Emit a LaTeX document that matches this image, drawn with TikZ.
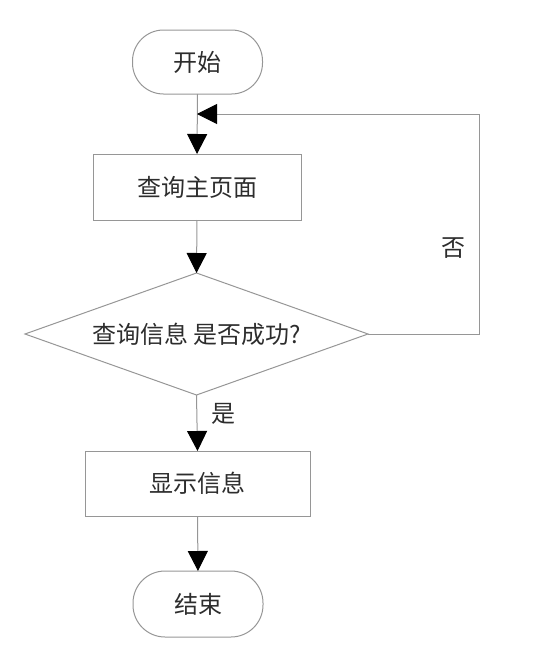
\documentclass[tikz,border=0pt]{standalone}
\usepackage{fontspec}
\newfontfamily\cjk{Noto Sans CJK SC}
\usetikzlibrary{arrows.meta,shapes.geometric}
\definecolor{linegray}{RGB}{150,150,150}
\definecolor{textgray}{RGB}{45,45,45}
\begin{document}
\begin{tikzpicture}[x=1pt,y=-1pt,
  every node/.style={font=\cjk\fontsize{24}{28}\selectfont, text=textgray, inner sep=0pt, outer sep=0pt},
  terminal/.style={draw=linegray, line width=1pt, rectangle, rounded corners=31pt, minimum width=130pt, minimum height=64pt},
  procbox/.style={draw=linegray, line width=1pt, rectangle, minimum height=66pt},
  decision/.style={draw=linegray, line width=1pt, diamond, aspect=2.8, minimum width=343pt, minimum height=122pt},
  flow/.style={draw=linegray, line width=1pt, -{Triangle[length=20pt,width=20pt,color=black]}},
  plain/.style={draw=linegray, line width=1pt}]
\useasboundingbox (0,0) rectangle (539,648);
\node[terminal] (start) at (197.5,62) {开始};
\node[procbox, minimum width=208pt] (query) at (197,187) {查询主页面};
\node[decision] (dec) at (196.5,334) {查询信息 是否成功?};
\node[procbox, minimum width=225pt, minimum height=65pt] (show) at (197.5,483.5) {显示信息};
\node[terminal, minimum height=66pt, rounded corners=32pt] (stop) at (198,604) {结束};
\node (no) at (453,248) {否};
\node (yes) at (223,414) {是};
\coordinate (r1) at (479,334);
\coordinate (r2) at (479,114);
\coordinate (j) at (197,114);
\draw[flow] (start.south) -- (query.north);
\draw[flow] (query.south) -- (dec.north);
\draw[flow] (dec.south) -- (show.north);
\draw[flow] (show.south) -- (stop.north);
\draw[plain] (dec.east) -- (r1) -- (r2);
\draw[flow] (r2) -- (j);
\end{tikzpicture}
\end{document}
